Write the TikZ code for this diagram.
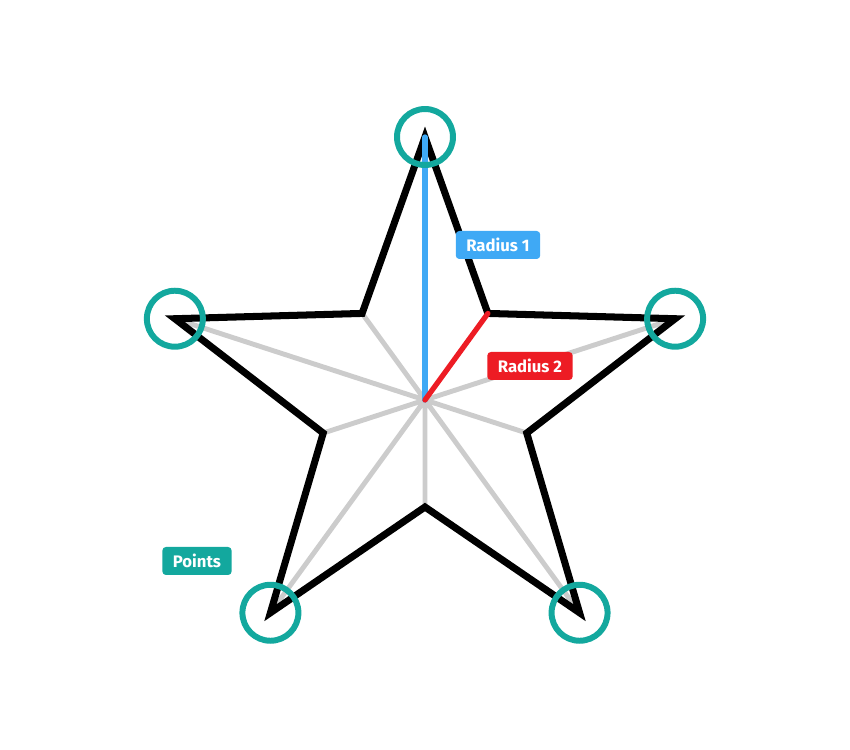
\documentclass[tikz,border=0pt]{standalone}
\usepackage{fontspec}
\setmainfont{Fira Sans}
\definecolor{tealpt}{HTML}{13A89E}
\definecolor{blueR}{HTML}{3FA9F5}
\definecolor{redR}{HTML}{ED1C24}
\definecolor{grayline}{HTML}{CCCCCC}
\tikzset{
  tag/.style={rounded corners=2pt,text=white,font=\fontsize{9.5}{11}\selectfont\bfseries,
    minimum height=0.56cm,inner xsep=6pt},
  pointring/.style={circle,draw=tealpt,line width=3.4pt,minimum size=1.12cm,inner sep=0pt},
}
\begin{document}
\begin{tikzpicture}[x=0.02cm,y=0.02cm]
\useasboundingbox (-425,-350) rectangle (425,400);

%Center
\coordinate (c) at (0,0);

%Outer points
\coordinate (o1) at (90:263);
\coordinate (o2) at (162:263);
\coordinate (o3) at (234:263);
\coordinate (o4) at (306:263);
\coordinate (o5) at (18:263);

%Inner points
\coordinate (i1) at (126:107);
\coordinate (i2) at (198:107);
\coordinate (i3) at (270:107);
\coordinate (i4) at (342:107);
\coordinate (i5) at (54:107);

%Spokes
\draw[grayline, line width=2.8pt] (c) -- (o2) (c) -- (o3) (c) -- (o4) (c) -- (o5)
  (c) -- (i1) (c) -- (i2) (c) -- (i3) (c) -- (i4);

%Star outline
\draw[black, line width=4pt, line join=miter]
  (o1) -- (i5) -- (o5) -- (i4) -- (o4) -- (i3) -- (o3) -- (i2) -- (o2) -- (i1) -- cycle;

%Radii
\draw[blueR, line width=3pt, line cap=round] (c) -- (o1);
\draw[redR, line width=3pt, line cap=round] (c) -- (i5);

%Rings
\node[pointring] (p1) at (o1) {};
\node[pointring] (p2) at (o2) {};
\node[pointring] (p3) at (o3) {};
\node[pointring] (p4) at (o4) {};
\node[pointring] (p5) at (o5) {};

%Labels
\node[tag, fill=blueR] (r1) at (73,155) {Radius 1};
\node[tag, fill=redR] (r2) at (105,34) {Radius 2};
\node[tag, fill=tealpt] (pts) at (-228,-161) {Points};
\end{tikzpicture}
\end{document}
